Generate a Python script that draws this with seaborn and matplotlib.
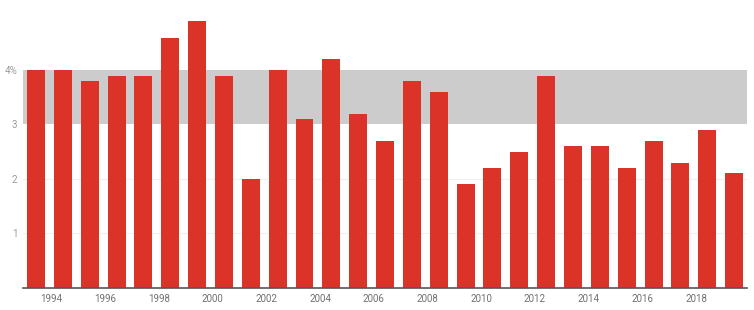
import matplotlib
matplotlib.use("Agg")
import matplotlib.pyplot as plt
import seaborn as sns
import pandas as pd

years = list(range(1993, 2020))
values = [4.0, 4.0, 3.8, 3.9, 3.9, 4.6, 4.9, 3.9, 2.0, 4.0, 3.1, 4.2, 3.2, 2.7,
          3.8, 3.6, 1.9, 2.2, 2.5, 3.9, 2.6, 2.6, 2.2, 2.7, 2.3, 2.9, 2.1]
tick_years = list(range(1994, 2020, 2))
y_ticks = [1, 2, 3, 4]
y_labels = ["1", "2", "3", "4%"]
band = (3, 4)

sns.set_theme(style="white")
plt.rcParams['font.family'] = ['Roboto', 'DejaVu Sans']

df = pd.DataFrame({"year": [str(y) for y in years], "value": values})

fig = plt.figure(figsize=(7.54, 3.10), dpi=100)
ax = fig.add_axes([23/754, 22.5/310, 724/754, 287.5/310])

ax.axhspan(band[0], band[1], color="#cccccc", zorder=0, lw=0)
for t in [1, 2]:
    ax.axhline(t, color="#f0f0f0", lw=0.8, zorder=0.5)

sns.barplot(data=df, x="year", y="value", color="#dc3328", saturation=1,
            width=0.67, ax=ax, zorder=2, edgecolor="none")

ax.set_xlim(-0.484, 26.48)
ax.set_ylim(0, 5.29)
ax.set_yticks(y_ticks)
ax.set_yticklabels(y_labels)
# ticks sit at the start of each year (bars are centred mid-year)
ax.set_xticks([y - years[0] - 0.42 for y in tick_years])
ax.set_xticklabels([str(y) for y in tick_years])
ax.tick_params(axis="y", length=0, pad=4, labelsize=7, labelcolor="#9a9a9a")
ax.tick_params(axis="x", length=0, pad=5, labelsize=7, labelcolor="#707070")
ax.set_xlabel("")
ax.set_ylabel("")
for s in ["top", "right", "left"]:
    ax.spines[s].set_visible(False)
ax.spines["bottom"].set_color("#555555")
ax.spines["bottom"].set_linewidth(1.2)
ax.spines["bottom"].set_zorder(3)

fig.savefig("out.png", dpi=100)
